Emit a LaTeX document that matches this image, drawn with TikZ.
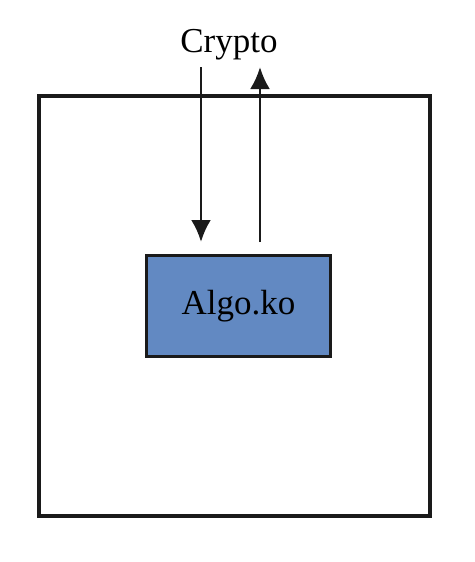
\documentclass[tikz,border=0pt]{standalone}
\usepackage{fontspec}
\setmainfont{Liberation Serif}
\usetikzlibrary{arrows.meta}
\usetikzlibrary{backgrounds}
\usepackage{xcolor}
\definecolor{algo}{HTML}{6289C2}
\definecolor{edge}{HTML}{1A1A1A}

\begin{document}
\begin{tikzpicture}[x=1pt,y=-1pt,
		%Option for nice arrows%
		>={Latex[length=22pt,width=20pt]},%
		frame/.style={draw=edge,line width=4pt},%
		algobox/.style={draw=edge,line width=2.6pt,fill=algo,
			minimum width=184pt,minimum height=101pt,inner sep=0pt},%
		flow/.style={->,line width=2.8pt,draw=edge},%
		label/.style={inner sep=0pt,font=\fontsize{35}{40}\selectfont}%
		]
		%% some definitions
		\def\xIn{201}    % downward arrow
		\def\xOut{260}   % upward arrow
		\def\yTop{67}    % upper end of arrows
		\def\yLow{242}   % lower end of arrows
		%
		\useasboundingbox (0,0) rectangle (474,562);
		%
	\draw[frame] (39,96) rectangle (430,516);
	
	\node[algobox] (algo) at (238.5,306) {};
	\node[label] (algotxt) at (algo.center) {Algo.ko};
	\node[label,anchor=base] (crypto) at (229,52) {Crypto};
	
	\coordinate (inA) at (\xIn,\yTop);
	\coordinate (inB) at (\xIn,\yLow);
	\coordinate (outA) at (\xOut,\yLow);
	\coordinate (outB) at (\xOut,\yTop);
	
	\draw[flow] (inA) -- (inB);
	\draw[flow] (outA) -- (outB);

	\end{tikzpicture}
\end{document}
